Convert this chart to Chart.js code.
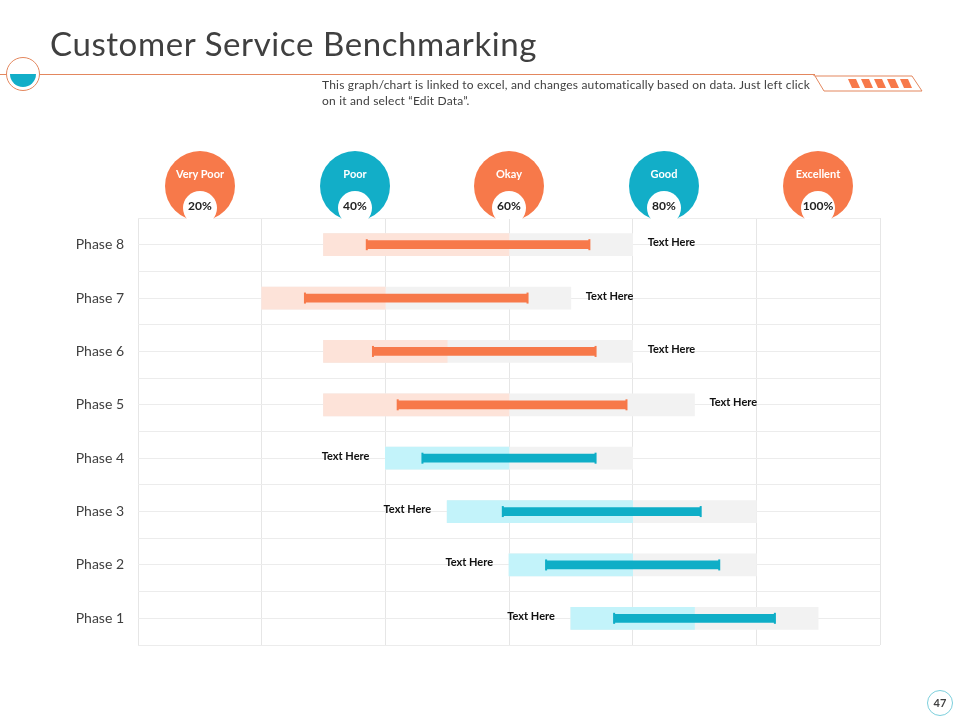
<!DOCTYPE html>
<html>
<head>
<meta charset="utf-8">
<title>Customer Service Benchmarking</title>
<script src="https://cdn.jsdelivr.net/npm/chart.js@4/dist/chart.umd.min.js"></script>
<style>
    body { margin: 0; background: #fff; font-family: 'Lato', sans-serif; }
    .slide { position: relative; width: 960px; height: 720px; overflow: hidden; }
    #chart { position: absolute; left: 0; top: 0; }
    .title { position: absolute; left: 50px; top: 23px; font-size: 33px; color: #404040; letter-spacing: 0.6px; }
    .rule { position: absolute; left: 0; top: 74px; width: 815px; height: 1px; background: #E3875E; }
    .icon { position: absolute; left: 6px; top: 57px; width: 34px; height: 34px; border: 1px solid #E3875E; border-radius: 50%; box-sizing: border-box; background: #fff; overflow: hidden; }
    .icon::after { content: ''; position: absolute; left: 3px; top: 16px; width: 26px; height: 13px; background: #12AEC8; border-radius: 0 0 13px 13px; }
    .deco { position: absolute; left: 812px; top: 74px; }
    .sub { position: absolute; left: 322px; top: 77px; font-size: 12px; line-height: 16px; color: #404040; letter-spacing: 0.19px; white-space: nowrap; }
    .level { position: absolute; top: 151px; width: 72px; height: 68px; overflow: hidden; }
    .level .blob { position: absolute; left: 1px; top: 0; width: 70px; height: 70px; border-radius: 50%; }
    .level .name { position: absolute; left: 0; top: 16px; width: 72px; text-align: center; font-size: 11px; font-weight: bold; color: #fff; }
    .level .hole { position: absolute; left: 19px; top: 40px; width: 34px; height: 34px; border-radius: 50%; background: #fff; }
    .level .pct { position: absolute; left: 0; top: 47px; width: 72px; text-align: center; font-size: 12px; font-weight: bold; color: #222; }
    .page { position: absolute; left: 927px; top: 690px; width: 26px; height: 26px; border: 1px solid #7CCFDC; border-radius: 50%; box-sizing: border-box; text-align: center; line-height: 24px; font-size: 11px; font-weight: bold; color: #404040; }
</style>
</head>
<body>
<div class="slide">
    <canvas id="chart" width="960" height="720"></canvas>
    <div class="title">Customer Service Benchmarking</div>
    <div class="rule"></div>
    <div class="icon"></div>
    <svg class="deco" width="120" height="22">
        <polyline points="0,0 3,2 100,2 110,17 12,17 3,2" fill="none" stroke="#E3875E" stroke-width="1"/>
        <polygon points="36,5 44,5 48,14 40,14" fill="#F7794A"/>
        <polygon points="49,5 57,5 61,14 53,14" fill="#F7794A"/>
        <polygon points="62,5 70,5 74,14 66,14" fill="#F7794A"/>
        <polygon points="75,5 83,5 87,14 79,14" fill="#F7794A"/>
        <polygon points="88,5 96,5 100,14 92,14" fill="#F7794A"/>
    </svg>
    <div class="sub">This graph/chart is linked to excel, and changes automatically based on data. Just left click<br>on it and select “Edit Data”.</div>
    <div id="levels"></div>
    <div class="page">47</div>
</div>

<script>
/* ---------- data ---------- */
const phases = ['Phase 8', 'Phase 7', 'Phase 6', 'Phase 5', 'Phase 4', 'Phase 3', 'Phase 2', 'Phase 1'];

// target range (grey track) and the shaded first part of it
const rangeStart = [30, 20, 30, 30, 40, 50, 60, 70];
const rangeEnd = [80, 70, 80, 90, 80, 100, 100, 110];
const shadeEnd = [60, 40, 50, 60, 60, 80, 80, 90];

// actual performance (thin bar)
const actualStart = [37, 27, 38, 42, 46, 59, 66, 77];
const actualEnd = [73, 63, 74, 79, 74, 91, 94, 103];

const groups = ['orange', 'orange', 'orange', 'orange', 'teal', 'teal', 'teal', 'teal'];
const notes = ['Text Here', 'Text Here', 'Text Here', 'Text Here', 'Text Here', 'Text Here', 'Text Here', 'Text Here'];
const noteSide = ['right', 'right', 'right', 'right', 'left', 'left', 'left', 'left'];

const levels = ['Very Poor', 'Poor', 'Okay', 'Good', 'Excellent'];
const levelPct = ['20%', '40%', '60%', '80%', '100%'];

/* ---------- colours ---------- */
const strong = { orange: '#F7794A', teal: '#0FAEC7' };
const light = { orange: '#FDE3D9', teal: '#C3F3FA' };

/* ---------- level badges ---------- */
const levelsBox = document.getElementById('levels');
const levelX = [200, 355, 509, 664, 818];
levels.forEach((name, i) => {
    const col = i % 2 === 0 ? strong.orange : '#12AEC8';
    levelsBox.innerHTML += `<div class="level" style="left:${levelX[i] - 36}px">
            <div class="blob" style="background:${col}"></div>
            <div class="name">${name}</div>
            <div class="hole"></div>
            <div class="pct">${levelPct[i]}</div>
        </div>`;
});

/* ---------- plugins ---------- */
// caps on the ends of the thin bars
const capsPlugin = {
    id: 'caps',
    afterDatasetsDraw(chart) {
        const ctx = chart.ctx;
        const meta = chart.getDatasetMeta(0);
        meta.data.forEach((bar, i) => {
            ctx.fillStyle = strong[groups[i]];
            const left = Math.min(bar.x, bar.base);
            const right = Math.max(bar.x, bar.base);
            ctx.fillRect(left - 1, bar.y - 5.5, 2, 11);
            ctx.fillRect(right - 1, bar.y - 5.5, 2, 11);
        });
    }
};

// "Text Here" notes beside each track
const notesPlugin = {
    id: 'notes',
    afterDatasetsDraw(chart) {
        const ctx = chart.ctx;
        const x = chart.scales.x;
        const y = chart.scales.y;
        ctx.save();
        ctx.font = 'bold 11px Lato';
        ctx.fillStyle = '#111';
        ctx.textBaseline = 'middle';
        notes.forEach((txt, i) => {
            const cy = y.getPixelForValue(i) - 2;
            if (noteSide[i] === 'right') {
                ctx.textAlign = 'left';
                ctx.fillText(txt, x.getPixelForValue(rangeEnd[i]) + 15, cy);
            } else {
                ctx.textAlign = 'right';
                ctx.fillText(txt, x.getPixelForValue(rangeStart[i]) - 16, cy);
            }
        });
        ctx.restore();
    }
};

/* ---------- chart ---------- */
Chart.defaults.font.family = 'Lato';

const chartData = {
    labels: phases,
    datasets: [
        {
            label: 'Actual',
            data: phases.map((p, i) => [actualStart[i], actualEnd[i]]),
            backgroundColor: groups.map(g => strong[g]),
            barThickness: 8,
            grouped: false,
            order: 0
        },
        {
            label: 'Shade',
            data: phases.map((p, i) => [rangeStart[i], shadeEnd[i]]),
            backgroundColor: groups.map(g => light[g]),
            barThickness: 22,
            grouped: false,
            order: 1
        },
        {
            label: 'Range',
            data: phases.map((p, i) => [rangeStart[i], rangeEnd[i]]),
            backgroundColor: '#F2F2F2',
            barThickness: 22,
            grouped: false,
            order: 2
        }
    ]
};

const chartOptions = {
    indexAxis: 'y',
    responsive: false,
    animation: false,
    layout: { padding: { top: 218, right: 80, bottom: 75, left: 0 } },
    plugins: {
        legend: { display: false },
        tooltip: { enabled: false }
    },
    scales: {
        x: {
            min: 0,
            max: 120,
            ticks: { display: false, stepSize: 20 },
            grid: { color: '#E6E6E6', drawTicks: false },
            border: { display: false }
        },
        // row boundaries
        y: {
            grid: { color: '#ECECEC', drawTicks: false, offset: true },
            border: { display: false },
            ticks: { padding: 14, color: '#404040', font: { size: 14 } },
            afterFit: s => { s.width = 138; }
        },
        // row centre lines
        yMid: {
            type: 'category',
            labels: phases,
            position: 'right',
            offset: true,
            ticks: { display: false },
            grid: { color: '#ECECEC', drawTicks: false, offset: false },
            border: { display: false },
            afterFit: s => { s.width = 0; }
        }
    }
};

let benchChart = new Chart(document.getElementById('chart'), {
    type: 'bar',
    data: chartData,
    options: chartOptions,
    plugins: [capsPlugin, notesPlugin]
});
</script>
</body>
</html>
